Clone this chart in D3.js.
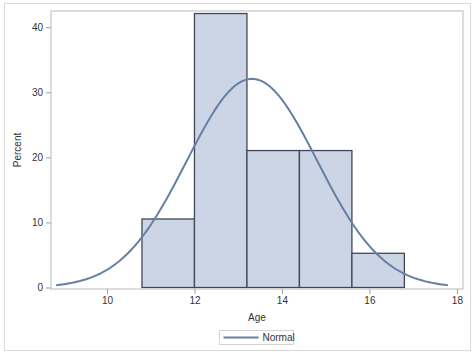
<!DOCTYPE html>
<html>
<head>
<meta charset="utf-8">
<script src="https://cdn.jsdelivr.net/npm/d3@7"></script>
<style>
  body { margin: 0; background: #fff; }
  text { font-family: "Liberation Sans", Arial, sans-serif; }
</style>
</head>
<body>
<div id="chart"></div>
<script>
// histogram bins (Age) and percent in each
var binStart = [10.8, 12.0, 13.2, 14.4, 15.6],
    binEnd   = [12.0, 13.2, 14.4, 15.6, 16.8],
    percent  = [10.53, 42.11, 21.05, 21.05, 5.26];

// fitted normal: mean, std dev, bin width
var mu = 13.316, sigma = 1.4927, binWidth = 1.2;

var xTicks = [10, 12, 14, 16, 18],
    yTicks = [0, 10, 20, 30, 40];

var W = 474, H = 355;
var margin = {top: 11, right: 11, bottom: 66, left: 51},
    width = W - margin.left - margin.right,
    height = H - margin.top - margin.bottom;

var x = d3.scaleLinear().domain([8.72, 18.14]).range([0, width]),
    y = d3.scaleLinear().domain([-0.23, 42.5]).range([height, 0]);

var svg = d3.select("#chart").append("svg")
    .attr("width", W).attr("height", H);

// outer border
svg.append("rect")
    .attr("x", 4.5).attr("y", 3.5)
    .attr("width", 466).attr("height", 347)
    .attr("fill", "none").attr("stroke", "#d9d9d9");

var g = svg.append("g")
    .attr("transform", "translate(" + margin.left + "," + margin.top + ")");

var bins = binStart.map(function(s, i) { return {x0: s, x1: binEnd[i], v: percent[i]}; });

g.selectAll(".bar")
  .data(bins)
  .enter().append("rect")
    .attr("class", "bar")
    .attr("x", function(d) { return x(d.x0); })
    .attr("y", function(d) { return y(d.v); })
    .attr("width", function(d) { return x(d.x1) - x(d.x0); })
    .attr("height", function(d) { return y(0) - y(d.v); })
    .attr("fill", "#cbd5e5")
    .attr("stroke", "#3f4856")
    .attr("stroke-width", 1.3);

// normal curve over mean +/- 3 sd
var curve = d3.range(mu - 3 * sigma, mu + 3 * sigma + 1e-9, 6 * sigma / 200).map(function(t) {
  var z = (t - mu) / sigma;
  return [t, 100 * binWidth * Math.exp(-0.5 * z * z) / (sigma * Math.sqrt(2 * Math.PI))];
});

g.append("path")
    .datum(curve)
    .attr("fill", "none")
    .attr("stroke", "#667fa2")
    .attr("stroke-width", 2)
    .attr("d", d3.line().x(function(d) { return x(d[0]); }).y(function(d) { return y(d[1]); }));

// plot frame
g.append("rect")
    .attr("x", 0).attr("y", 0)
    .attr("width", width).attr("height", height)
    .attr("fill", "none").attr("stroke", "#c6c6c6").attr("stroke-width", 1.2);

var xAxis = g.append("g")
    .attr("transform", "translate(0," + height + ")")
    .call(d3.axisBottom(x).tickValues(xTicks).tickSize(5).tickPadding(3));
var yAxis = g.append("g")
    .call(d3.axisLeft(y).tickValues(yTicks).tickSize(5).tickPadding(3));

[xAxis, yAxis].forEach(function(a) {
  a.select(".domain").remove();
  a.selectAll(".tick line").attr("stroke", "#a0a0a0");
  a.selectAll(".tick text").attr("fill", "#333").style("font-size", "10px")
      .style("font-family", "'Liberation Sans', Arial, sans-serif");
});

g.append("text")
    .attr("x", width / 2).attr("y", height + 32)
    .attr("text-anchor", "middle")
    .attr("fill", "#333").style("font-size", "10px")
    .text("Age");

g.append("text")
    .attr("transform", "translate(" + (-30) + "," + (height / 2) + ") rotate(-90)")
    .attr("text-anchor", "middle")
    .attr("fill", "#333").style("font-size", "10px")
    .text("Percent");

// legend
var leg = svg.append("g").attr("transform", "translate(219.5,330.5)");
leg.append("rect")
    .attr("width", 74).attr("height", 14)
    .attr("fill", "#fff").attr("stroke", "#d4d4d4");
leg.append("line")
    .attr("x1", 4).attr("x2", 39).attr("y1", 7).attr("y2", 7)
    .attr("stroke", "#667fa2").attr("stroke-width", 2);
leg.append("text")
    .attr("x", 43).attr("y", 10.5)
    .attr("fill", "#333").style("font-size", "10px")
    .text("Normal");
</script>
</body>
</html>
